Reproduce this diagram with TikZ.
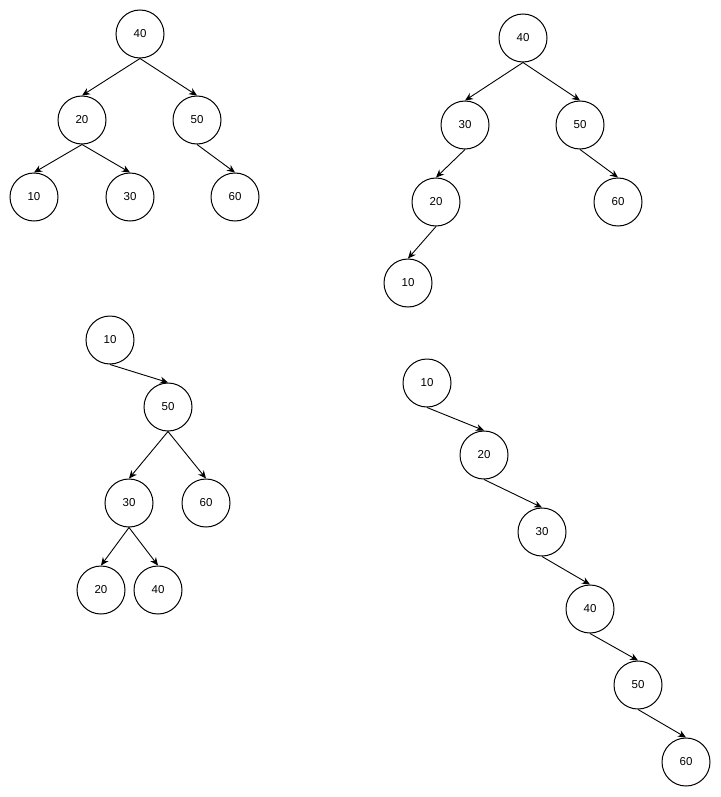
\documentclass[tikz,border=0pt]{standalone}
\usepackage{fontspec}
\setmainfont{Liberation Sans}
\usetikzlibrary{arrows.meta}

\tikzset{
	key/.style={circle,draw,line width=1pt,minimum size=48pt,inner sep=0pt,font=\fontsize{11.5}{13}\selectfont},
	link/.style={-{Stealth[length=8pt,width=7pt]},line width=0.9pt}
}

\begin{document}
\begin{tikzpicture}[x=1pt,y=-1pt]
			\useasboundingbox (0,0) rectangle (720,797);
			% tree top left
			\node[key] (a40) at (140,34) {40};
			\node[key] (a20) at (82,120) {20};
			\node[key] (a50) at (197,120) {50};
			\node[key] (a10) at (34,197) {10};
			\node[key] (a30) at (130,197) {30};
			\node[key] (a60) at (235,197) {60};
			\foreach \p/\c in {40/20,40/50,20/10,20/30,50/60}
			\draw[link] (a\p.south) -- (a\c.north);
			
			% tree top right
			\node[key] (b40) at (523,38) {40};
			\node[key] (b30) at (465,125) {30};
			\node[key] (b50) at (580,125) {50};
			\node[key] (b20) at (436,202) {20};
			\node[key] (b60) at (618,202) {60};
			\node[key] (b10) at (408,283) {10};
			\foreach \p/\c in {40/30,40/50,30/20,50/60,20/10}
			\draw[link] (b\p.south) -- (b\c.north);
			
			% tree bottom left
			\node[key] (c10) at (110,340) {10};
			\node[key] (c50) at (168,407) {50};
			\node[key] (c30) at (129,503) {30};
			\node[key] (c60) at (206,503) {60};
			\node[key] (c20) at (101,590) {20};
			\node[key] (c40) at (158,590) {40};
			\foreach \p/\c in {10/50,50/30,50/60,30/20,30/40}
			\draw[link] (c\p.south) -- (c\c.north);
			
			% tree bottom right
			\node[key] (d10) at (427,383) {10};
			\node[key] (d20) at (484,455) {20};
			\node[key] (d30) at (542,532) {30};
			\node[key] (d40) at (590,609) {40};
			\node[key] (d50) at (638,685) {50};
			\node[key] (d60) at (686,762) {60};
			\foreach \p/\c in {10/20,20/30,30/40,40/50,50/60}
			\draw[link] (d\p.south) -- (d\c.north);
\end{tikzpicture}
\end{document}
